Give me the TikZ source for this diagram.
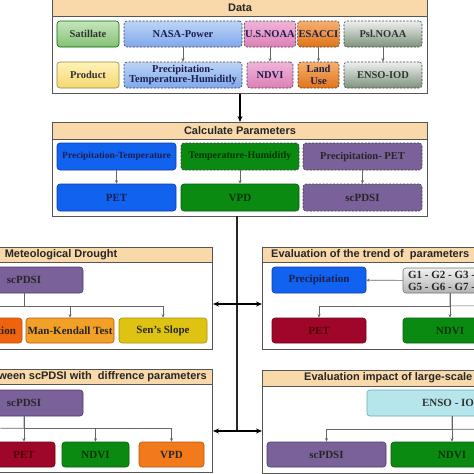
\documentclass[tikz,border=0pt]{standalone}
\usepackage{fontspec}
\setmainfont{Liberation Serif}
\newfontfamily\titlefont{Liberation Sans}
\usetikzlibrary{arrows.meta,calc}
\definecolor{hdr}{HTML}{F9D8AA}
\definecolor{frame}{HTML}{555555}
\definecolor{navy}{HTML}{1C1E4E}
\definecolor{blueC}{HTML}{1262F0}
\definecolor{blueD}{HTML}{0A3CA8}
\definecolor{greenC}{HTML}{0B8A12}
\definecolor{greenD}{HTML}{065E0A}
\definecolor{purpC}{HTML}{7A619A}
\definecolor{purpD}{HTML}{4A3A6A}
\definecolor{redC}{HTML}{A0062A}
\definecolor{redD}{HTML}{6E0418}
\definecolor{orC}{HTML}{F27A1A}
\definecolor{orD}{HTML}{B85410}
\definecolor{stdC}{HTML}{F0620E}
\definecolor{mkC}{HTML}{F2A126}
\definecolor{senC}{HTML}{DFC312}
\definecolor{senD}{HTML}{A89000}
\definecolor{cyanC}{HTML}{B6E6EC}
\definecolor{cyanD}{HTML}{6AA8B0}
\definecolor{pinkT}{HTML}{F0B4D8}
\definecolor{pinkB}{HTML}{DC80B8}
\definecolor{nasaT}{HTML}{BCD4F6}
\definecolor{nasaB}{HTML}{80A8EC}
\definecolor{oraT}{HTML}{F4B070}
\definecolor{oraB}{HTML}{E07418}
\definecolor{pslT}{HTML}{EEF0EE}
\definecolor{pslB}{HTML}{7C927C}
\definecolor{satT}{HTML}{C4E6BC}
\definecolor{satB}{HTML}{84C074}
\definecolor{proT}{HTML}{FFF2B8}
\definecolor{proB}{HTML}{F6D870}
\tikzset{
  container/.style={draw=frame, line width=1pt, fill=white, anchor=north west, inner sep=0pt},
  header/.style={draw=frame, line width=1pt, fill=hdr, anchor=north west, inner sep=0pt,
    font=\titlefont\bfseries\fontsize{11}{12}\selectfont, text=black!85},
  titletext/.style={inner sep=0pt, font=\titlefont\bfseries\fontsize{11}{12}\selectfont, text=black!85},
  pnode/.style={rounded corners=3pt, draw, line width=0.6pt, inner sep=1pt, align=center,
    font=\bfseries\fontsize{11}{12}\selectfont},
  dnode/.style={pnode, font=\bfseries\fontsize{10.5}{11}\selectfont, text=navy},
  dsh/.style={dash pattern=on 2pt off 1.5pt, draw=black!75},
  conn/.style={draw=black!60, line width=0.6pt, -{Stealth[length=3.5pt,width=3pt]}},
  gline/.style={draw=black!60, line width=0.6pt},
  mainarr/.style={draw=black, line width=1.1pt, -{Stealth[length=6pt,width=5pt]}},
  trunk/.style={draw=black!85, line width=1.1pt}
}
\begin{document}
\begin{tikzpicture}[x=1pt,y=-1pt]
\useasboundingbox (0,0) rectangle (474,474);
\clip (0,0) rectangle (474,474);
\fill[white] (0,0) rectangle (474,474);

% ---------- Data ----------
\node[container, minimum width=375, minimum height=94] (dataBox) at (52,-1) {};
\node[header, minimum width=375, minimum height=16.5] (dataHead) at (52,-1) {Data};
\node[dnode, draw=black!60!green, top color=satT, bottom color=satB, minimum width=62, minimum height=26, text=black!80] (sat) at (88,34) {Satillate};
\node[dnode, dsh, top color=nasaT, bottom color=nasaB, minimum width=118, minimum height=26] (nasa) at (183,34) {NASA-Power};
\node[dnode, dsh, top color=pinkT, bottom color=pinkB, minimum width=46, minimum height=26] (usnoaa) at (270,34) {U.S.NOAA};
\node[dnode, dsh, top color=oraT, bottom color=oraB, minimum width=41, minimum height=26] (esacci) at (318.5,34) {ESACCI};
\node[dnode, dsh, top color=pslT, bottom color=pslB, minimum width=78, minimum height=26, text=black!80] (psl) at (383,34) {Psl.NOAA};
\node[dnode, draw=black!50!yellow, top color=proT, bottom color=proB, minimum width=62, minimum height=26, text=black!80] (prod) at (88,75) {Product};
\node[dnode, dsh, top color=nasaT, bottom color=nasaB, minimum width=118, minimum height=26, font=\bfseries\fontsize{10.5}{10.5}\selectfont] (pth) at (183,75) {Precipitation-\\Temperature-Humiditly};
\node[dnode, dsh, top color=pinkT, bottom color=pinkB, minimum width=46, minimum height=26] (ndvi0) at (270,75) {NDVI};
\node[dnode, dsh, top color=oraT, bottom color=oraB, minimum width=41, minimum height=26, font=\bfseries\fontsize{10.5}{11.5}\selectfont] (land) at (318.5,75) {Land\\Use};
\node[dnode, dsh, top color=pslT, bottom color=pslB, minimum width=78, minimum height=26, text=black!80] (enso0) at (383,75) {ENSO-IOD};
\draw[conn] (nasa) -- (pth);
\draw[conn] (usnoaa) -- (ndvi0);
\draw[conn] (esacci) -- (land);
\draw[conn] (psl) -- (enso0);

% ---------- Calculate Parameters ----------
\node[container, minimum width=375, minimum height=94] (calcBox) at (52,122) {};
\node[header, minimum width=375, minimum height=17] (calcHead) at (52,122) {Calculate Parameters};
\draw[mainarr] (dataBox) -- (calcBox);
\node[pnode, draw=blueD, fill=blueC, text=navy, minimum width=119, minimum height=27, font=\bfseries\fontsize{9.5}{10}\selectfont] (c1) at (116.5,156.5) {Precipitation-Temperature};
\node[pnode, draw=greenD, dsh, fill=greenC, text=green!20!black, minimum width=118, minimum height=27, font=\bfseries\fontsize{10}{10}\selectfont] (c2) at (240,156.5) {Temperature-Humiditly};
\node[pnode, draw=purpD, dsh, fill=purpC, text=black!85, minimum width=119, minimum height=27, font=\bfseries\fontsize{10.5}{10}\selectfont] (c3) at (362.5,156.5) {Precipitation- PET};
\node[pnode, draw=blueD, fill=blueC, text=navy, minimum width=119, minimum height=27] (c4) at (116.5,197.5) {PET};
\node[pnode, draw=greenD, fill=greenC, text=green!20!black, minimum width=118, minimum height=27] (c5) at (240,197.5) {VPD};
\node[pnode, draw=purpD, dsh, fill=purpC, text=black!85, minimum width=119, minimum height=27] (c6) at (362.5,197.5) {scPDSI};
\draw[conn] (c1) -- (c4);
\draw[conn] (c2) -- (c5);
\draw[conn] (c3) -- (c6);

% ---------- trunk ----------
\coordinate (t0) at (237,216);
\coordinate (t1) at (237,304);
\coordinate (t2) at (237,431);
\draw[trunk] (t0) -- (t2);

% ---------- Meteological Drought ----------
\node[container, minimum width=303, minimum height=102] (meteoBox) at (-91,247) {};
\node[header, minimum width=303, minimum height=15] (meteoHead) at (-91,247) {Meteological Drought};
\node[pnode, draw=purpD, fill=purpC, text=black!85, minimum width=118, minimum height=26] (sc1) at (24,280) {scPDSI};
\node[pnode, draw=orD, fill=stdC, text=black!85, minimum width=88, minimum height=25] (std) at (-22,330.5) {Standardization};
\node[pnode, draw=orD, fill=mkC, text=black!85, minimum width=88, minimum height=25] (mk) at (70,330.5) {Man-Kendall Test};
\node[pnode, draw=senD, fill=senC, text=black!85, minimum width=88, minimum height=25] (sen) at (163,330.5) {Sen's Slope};
\draw[conn] (sc1.south) -- ++(0,13) -| (std.north);
\draw[conn] (sc1.south) -- ++(0,13) -| (mk.north);
\draw[conn] (sc1.south) -- ++(0,13) -| (sen.north);
\draw[mainarr] (t1) -- (t1 -| meteoBox.east);

% ---------- Evaluation of the trend ----------
\node[container, minimum width=300, minimum height=102] (trendBox) at (262,247) {};
\node[header, minimum width=300, minimum height=15] (trendHead) at (262,247) {};
\node[titletext, anchor=west] (trendTitle) at (271,255) {Evaluation of the trend of\ \ parameters};
\node[pnode, draw=blueD, fill=blueC, text=navy, minimum width=94, minimum height=26] (prec) at (319,280) {Precipitation};
\node[pnode, draw=black!55, top color=black!5, bottom color=black!30, minimum width=94, minimum height=25, font=\bfseries\fontsize{11}{12}\selectfont, text=black!85] (gnode) at (450,280.5) {G1 - G2 - G3 - G4\\G5 - G6 - G7 - G8};
\node[pnode, draw=redD, fill=redC, text=red!30!black, minimum width=94, minimum height=25] (pet2) at (319,330.5) {PET};
\node[pnode, draw=greenD, fill=greenC, text=green!20!black, minimum width=94, minimum height=25] (ndvi2) at (450,330.5) {NDVI};
\coordinate (trR) at (520,306);
\draw[conn] (gnode) -- (prec);
\draw[conn] (gnode.south) -- ++(0,12.5) -| (pet2.north);
\draw[conn] (gnode) -- (ndvi2);
\draw[gline] (gnode.south) -- ++(0,12.5) -- (trR);
\draw[mainarr] (t1) -- (t1 -| trendBox.west);

% ---------- Correlation ----------
\node[container, minimum width=362, minimum height=103] (corrBox) at (-150,369) {};
\node[header, minimum width=362, minimum height=15] (corrHead) at (-150,369) {};
\node[titletext, anchor=east] (corrTitle) at (207,377) {Correlation between scPDSI with\ \ diffrence parameters};
\node[pnode, draw=purpD, fill=purpC, text=black!85, minimum width=118, minimum height=26] (sc3) at (24,403) {scPDSI};
\node[pnode, draw=redD, fill=redC, text=red!30!black, minimum width=62, minimum height=25] (pet3) at (24,454.5) {PET};
\node[pnode, draw=greenD, fill=greenC, text=green!20!black, minimum width=67, minimum height=25] (ndvi3) at (95.5,454.5) {NDVI};
\node[pnode, draw=orD, fill=orC, text=black!85, minimum width=65, minimum height=25] (vpd3) at (171.5,454.5) {VPD};
\coordinate (crL) at (-40,428);
\draw[conn] (sc3) -- (pet3);
\draw[conn] (sc3.south) -- ++(0,12) -| (ndvi3.north);
\draw[conn] (sc3.south) -- ++(0,12) -| (vpd3.north);
\draw[gline] (sc3.south) -- ++(0,12) -- (crL);
\draw[mainarr] (t2) -- (t2 -| corrBox.east);

% ---------- Evaluation impact ----------
\node[container, minimum width=300, minimum height=103] (impBox) at (262,370) {};
\node[header, minimum width=300, minimum height=16] (impHead) at (262,370) {};
\node[titletext, anchor=west] (impTitle) at (304,378) {Evaluation impact of large-scale climate signals};
\node[pnode, draw=cyanD, fill=cyanC, text=black!80, minimum width=170, minimum height=26] (enso) at (452,403) {ENSO - IOD};
\node[pnode, draw=purpD, fill=purpC, text=black!85, minimum width=119, minimum height=25] (sc4) at (326.5,454.5) {scPDSI};
\node[pnode, draw=greenD, fill=greenC, text=green!20!black, minimum width=122, minimum height=25] (ndvi4) at (452,454.5) {NDVI};
\coordinate (imR) at (520,429);
\draw[conn] (enso) -- (ndvi4);
\draw[conn] (enso.south) -- ++(0,13) -| (sc4.north);
\draw[gline] (enso.south) -- ++(0,13) -- (imR);
\draw[mainarr] (t2) -- (t2 -| impBox.west);
\end{tikzpicture}
\end{document}
